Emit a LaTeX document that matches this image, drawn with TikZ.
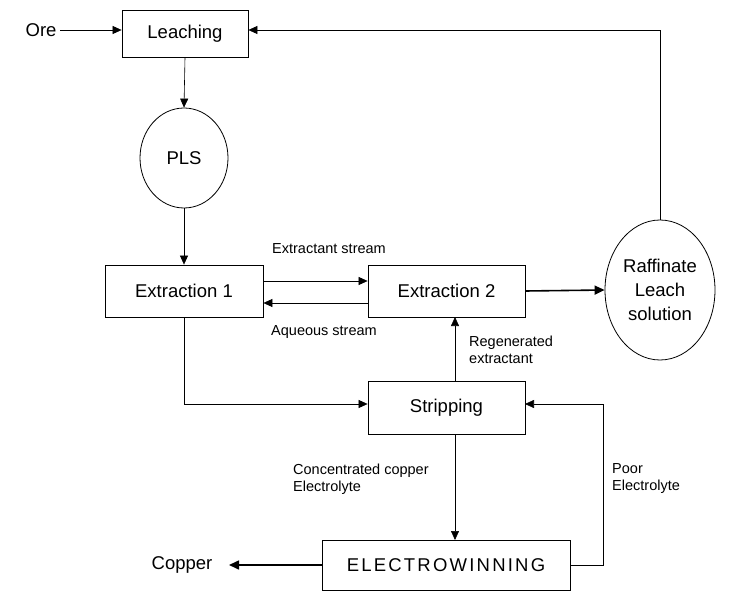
\documentclass[tikz,border=0pt]{standalone}
\usepackage{fontspec}
\setmainfont{Liberation Sans}
\usetikzlibrary{arrows.meta,shapes.geometric}
\begin{document}
\begin{tikzpicture}[x=1pt,y=-1pt,
  box/.style={draw,line width=0.8pt,inner sep=0pt,font=\fontsize{18.5}{20}\selectfont},
  ell/.style={draw,ellipse,line width=0.8pt,inner sep=0pt,font=\fontsize{18.5}{24}\selectfont,align=center},
  lbl/.style={font=\fontsize{14.5}{17}\selectfont,inner sep=0pt},
  arr/.style={-{Triangle[length=9pt,width=8pt]},line width=0.6pt},
  tarr/.style={-{Triangle[length=10pt,width=9pt]},line width=1.6pt}]
\useasboundingbox (0,0) rectangle (731,604);
\node[box,minimum width=126pt,minimum height=47pt] (leach) at (185,33.5) {Leaching};
\node[font=\fontsize{18.5}{20}\selectfont,anchor=east] (ore) at (60,30) {Ore};
\node[ell,minimum width=88pt,minimum height=100pt] (pls) at (184,158) {PLS};
\node[box,minimum width=158pt,minimum height=52pt] (e1) at (184,291) {Extraction 1};
\node[box,minimum width=157pt,minimum height=52pt] (e2) at (446.5,291) {Extraction 2};
\node[ell,minimum width=110pt,minimum height=140pt] (raf) at (660,290) {Raffinate\\Leach\\solution};
\node[box,minimum width=157pt,minimum height=53pt] (strip) at (446.5,407.5) {Stripping};
\node[box,minimum width=248pt,minimum height=50pt] (ew) at (446,565) {\addfontfeature{LetterSpace=12}ELECTROWINNING};
\node[font=\fontsize{18.5}{20}\selectfont] (cu) at (182,565) {Copper};
\coordinate (cuend) at (229,565);
\draw[arr] (ore.east |- 0,30) -- (leach.west |- 0,30);
\draw[arr] (leach.south) -- (pls.north);
\draw[arr] (pls.south) -- (e1.north);
\draw[arr] ([yshift=10pt]e1.east) -- ([yshift=10pt]e2.west);
\draw[arr] ([yshift=-12pt]e2.west) -- ([yshift=-12pt]e1.east);
\node[lbl] (lx) at (329,249) {Extractant stream};
\node[lbl] (la) at (324,332) {Aqueous stream};
\draw[tarr] (e2.east) -- (raf.west);
\draw[arr] (raf.north) -- (660,30) -- (leach.east |- 0,30);
\draw[arr] (e1.south) -- (184,404) -- (strip.west |- 0,404);
\draw[arr] (455,381) -- (455,317);
\node[lbl,anchor=west,align=left] (lr) at (469,350) {Regenerated\\extractant};
\draw[arr] (455,434) -- (455,540);
\node[lbl,anchor=west,align=left] (lc) at (293,479) {Concentrated copper\\Electrolyte};
\draw[arr] (ew.east) -- (603,565) -- (603,404) -- (525,404);
\node[lbl,anchor=west,align=left] (lp) at (612,479) {Poor\\Electrolyte};
\draw[tarr] (ew.west) -- (cuend);
\end{tikzpicture}
\end{document}
